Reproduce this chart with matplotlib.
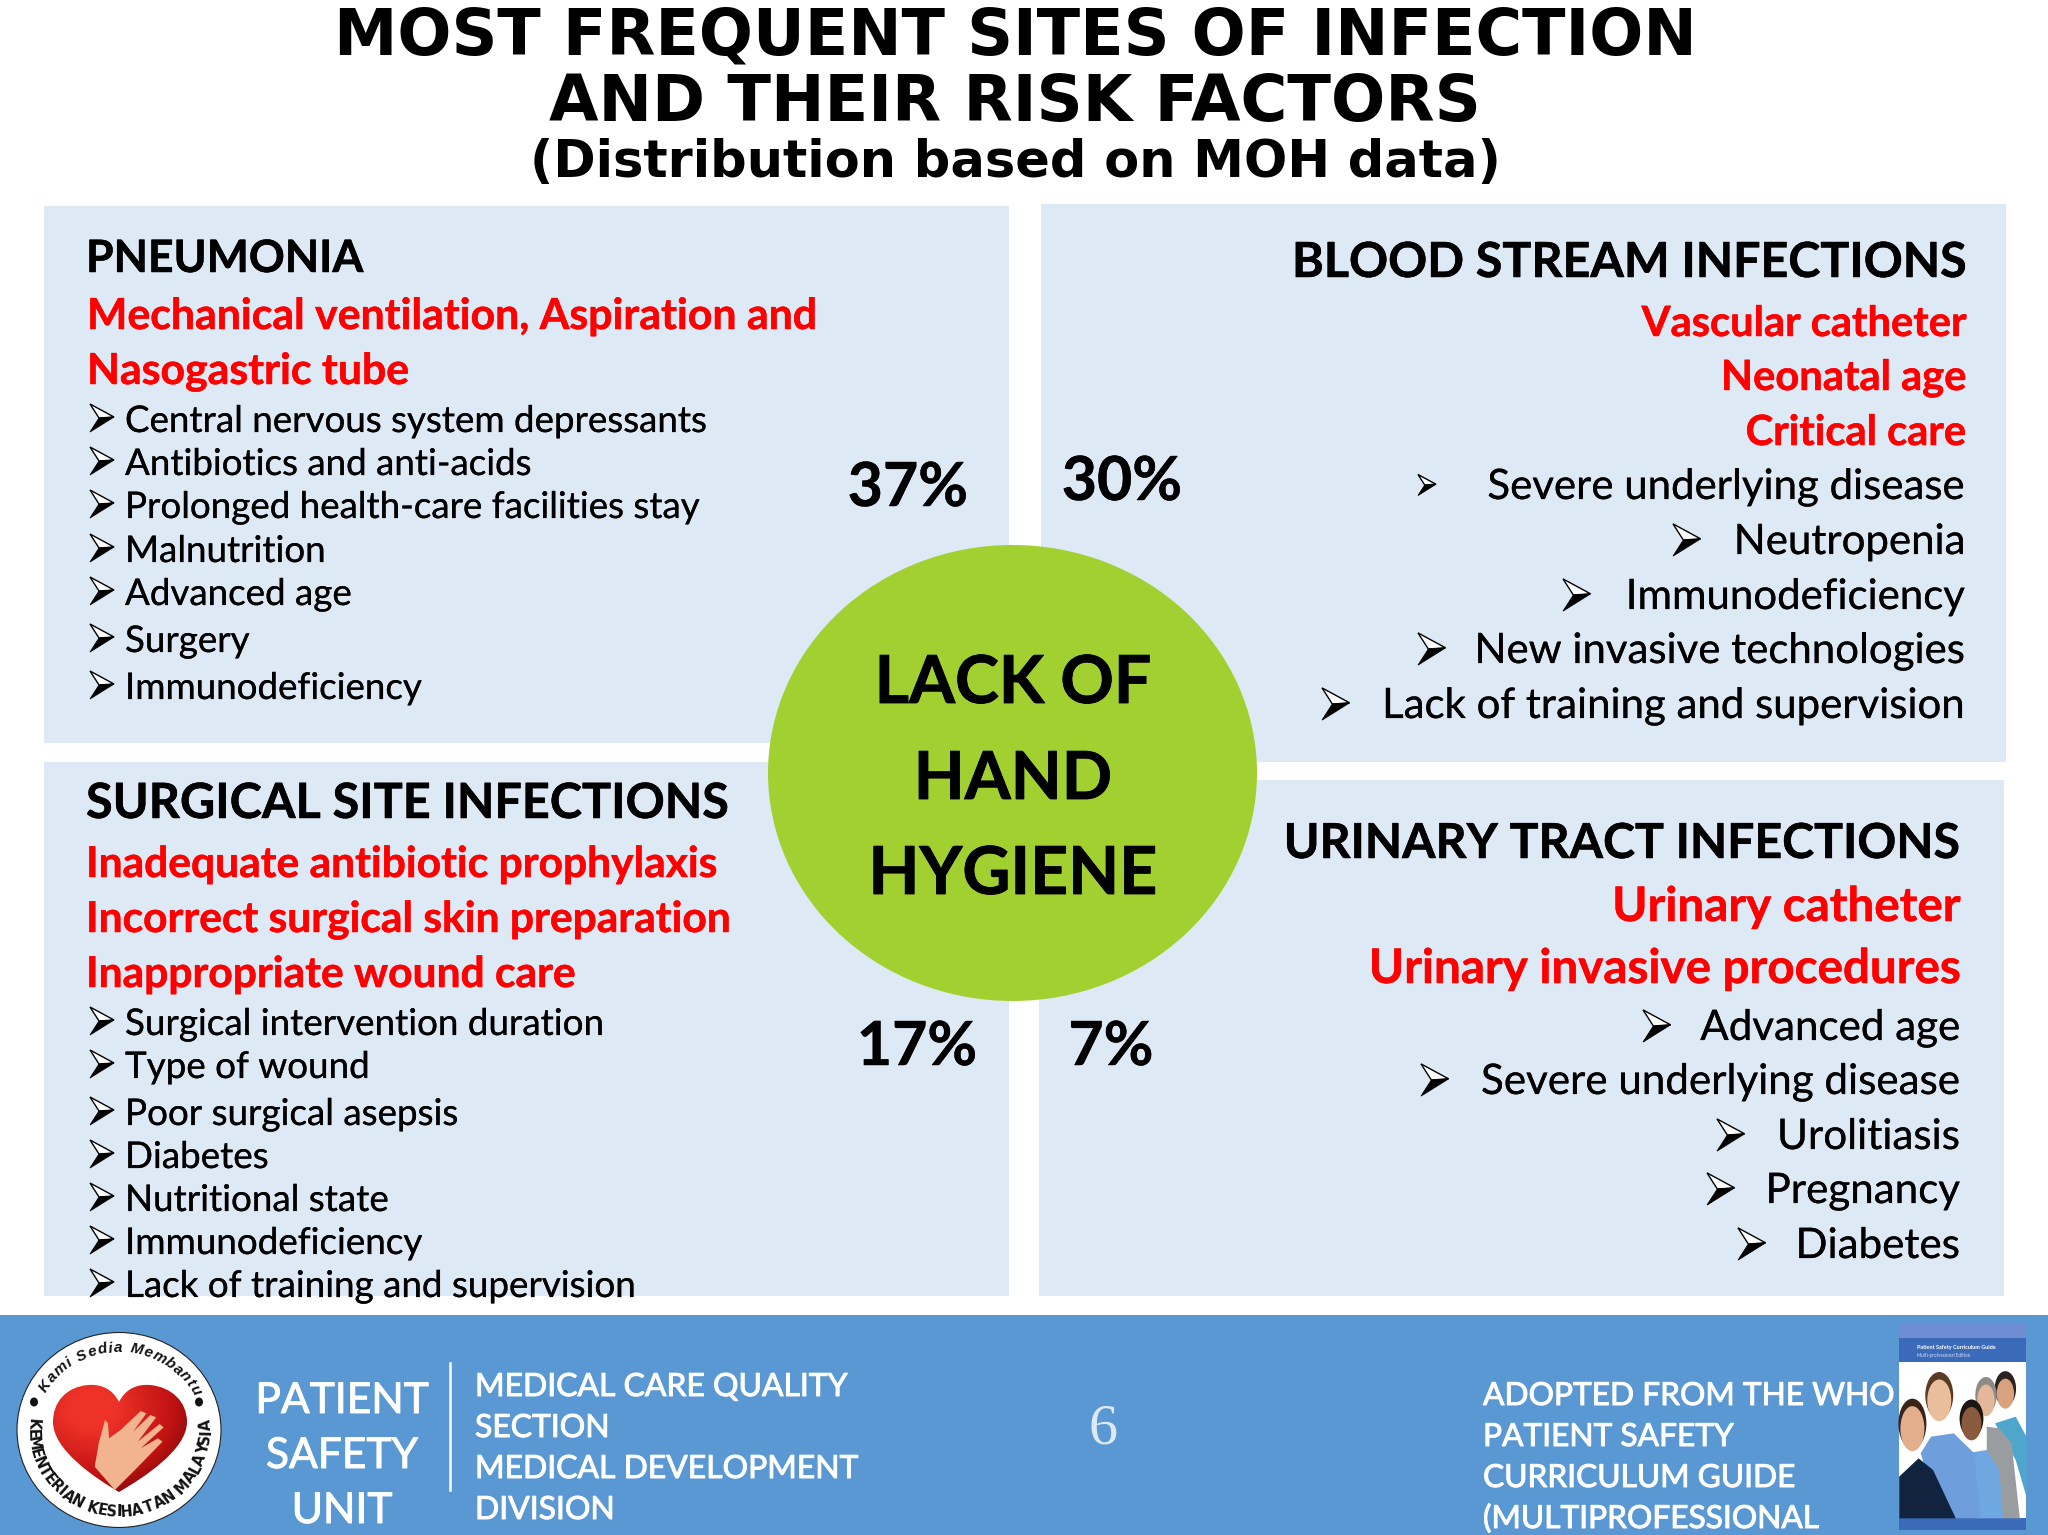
import numpy as np
import matplotlib
matplotlib.use('Agg')
import matplotlib.pyplot as plt
import matplotlib.patheffects as pe
from matplotlib.font_manager import FontProperties
from matplotlib.patches import Rectangle, Ellipse, Polygon, PathPatch
from matplotlib.path import Path
from matplotlib.textpath import TextPath

# Text of the slide
title_lines = ['MOST FREQUENT SITES OF INFECTION', 'AND THEIR RISK FACTORS']
subtitle = '(Distribution based on MOH data)'

pneu_head = 'PNEUMONIA'
pneu_red = ['Mechanical ventilation, Aspiration and', 'Nasogastric tube']
pneu_items = ['Central nervous system depressants', 'Antibiotics and anti-acids',
              'Prolonged health-care facilities stay', 'Malnutrition', 'Advanced age',
              'Surgery', 'Immunodeficiency']

blood_head = 'BLOOD STREAM INFECTIONS'
blood_red = ['Vascular catheter', 'Neonatal age', 'Critical care']
blood_items = ['Severe underlying disease', 'Neutropenia', 'Immunodeficiency',
               'New invasive technologies', 'Lack of training and supervision']

surg_head = 'SURGICAL SITE INFECTIONS'
surg_red = ['Inadequate antibiotic prophylaxis', 'Incorrect surgical skin preparation',
            'Inappropriate wound care']
surg_items = ['Surgical intervention duration', 'Type of wound', 'Poor surgical asepsis',
              'Diabetes', 'Nutritional state', 'Immunodeficiency',
              'Lack of training and supervision']

uti_head = 'URINARY TRACT INFECTIONS'
uti_red = ['Urinary catheter', 'Urinary invasive procedures']
uti_items = ['Advanced age', 'Severe underlying disease', 'Urolitiasis', 'Pregnancy', 'Diabetes']

shares = ['37%', '30%', '17%', '7%']
center_lines = ['LACK OF', 'HAND', 'HYGIENE']
unit_lines = ['PATIENT', 'SAFETY', 'UNIT']
section_lines = ['MEDICAL CARE QUALITY', 'SECTION', 'MEDICAL DEVELOPMENT', 'DIVISION']
adopted_lines = ['ADOPTED FROM THE WHO', 'PATIENT SAFETY', 'CURRICULUM GUIDE', '(MULTIPROFESSIONAL']
page_no = '6'
logo_top = 'Kami Sedia Membantu'
logo_bottom = 'KEMENTERIAN KESIHATAN MALAYSIA'
book_lines = ['Patient Safety Curriculum Guide', 'Multi-professional Edition']

PANEL = '#DEE9F6'
GREEN = '#A2D030'
FOOTER = '#5A98D4'
RED = '#FF0000'
DPI = 100
BODY = 'Lato'

fig = plt.figure(figsize=(20.48, 15.35), dpi=DPI, facecolor='white')
ax = fig.add_axes([0, 0, 1, 1])
ax.set_xlim(0, 2048)
ax.set_ylim(1535, 0)
ax.axis('off')


def fit(s, width, family=BODY, weight='normal'):
    # font size that makes s come out width pixels wide
    tp = TextPath((0, 0), s, size=100, prop=FontProperties(family=family, weight=weight))
    return width / tp.get_extents().width * 100 * 72 / DPI


def put(x, y, s, size, color='black', weight='normal', ha='left', family=BODY, heavy=0, **kw):
    t = ax.text(x, y, s, fontsize=size, color=color, fontweight=weight, ha=ha,
                va='baseline', family=family, **kw)
    if heavy:
        # Lato is lighter than the slide's face, thicken it a little
        t.set_path_effects([pe.withStroke(linewidth=heavy, foreground=color)])
    return t


def arrow(x, y, k=1.0, z=4):
    # the bullet: hollow top half, black lower half, x is its left end, y the text baseline
    mid = y - 14
    top = (x, mid - 14 * k)
    tip = (x + 24 * k, mid - 1 * k)
    bottom = (x, mid + 14 * k)
    notch = (x + 9 * k, mid)
    ax.add_patch(Polygon([top, tip, notch], closed=True, fc='white', ec='black', lw=1.0, zorder=z))
    ax.add_patch(Polygon([notch, tip, bottom], closed=True, fc='black', ec='black', lw=0.6, zorder=z))


def box(x0, y0, x1, y1, color, z=1):
    ax.add_patch(Rectangle((x0, y0), x1 - x0, y1 - y0, fc=color, ec='none', zorder=z))


# Title
s = fit(title_lines[0], 1350, 'DejaVu Sans', 'bold')
put(1015, 54, title_lines[0], s, weight='bold', ha='center', family='DejaVu Sans')
put(1015, 121, title_lines[1], s * 1.006, weight='bold', ha='center', family='DejaVu Sans')
put(1015, 177, subtitle, fit(subtitle, 962, 'DejaVu Sans', 'bold'), weight='bold', ha='center',
    family='DejaVu Sans')

# Panels
box(44, 206, 1009, 743, PANEL)
box(1041, 204, 2006, 762, PANEL)
box(44, 762, 1009, 1296, PANEL)
box(1039, 780, 2004, 1296, PANEL)

BOLD_EXTRA = 0.35
BODY_EXTRA = 0.15

# Pneumonia
put(86, 272, pneu_head, fit(pneu_head, 274, weight='bold'), weight='bold', heavy=BOLD_EXTRA)
s = fit(pneu_red[0], 724, weight='bold')
for y, t in zip([329, 384], pneu_red):
    put(87, y, t, s, RED, 'bold', heavy=BOLD_EXTRA)
s = fit(pneu_items[2], 571)
for y, t in zip([432, 475, 518, 562, 605, 652, 699], pneu_items):
    put(125, y, t, s, heavy=BODY_EXTRA)
    arrow(90, y)

# Blood stream
put(1966, 277, blood_head, fit(blood_head, 669, weight='bold'), weight='bold', ha='right', heavy=BOLD_EXTRA)
s = fit(blood_red[0], 325, weight='bold')
for y, t in zip([336, 390, 445], blood_red):
    put(1966, y, t, s, RED, 'bold', 'right', heavy=BOLD_EXTRA)
s = fit(blood_items[4], 576)
for y, t, x0, k in zip([499, 554, 609, 663, 718], blood_items, [1418, 1673, 1563, 1418, 1322],
                       [0.75, 1.15, 1.15, 1.15, 1.15]):
    put(1966, y, t, s, ha='right', heavy=BODY_EXTRA)
    arrow(x0, y, k)

# Surgical site
put(86, 818, surg_head, fit(surg_head, 640, weight='bold'), weight='bold', heavy=BOLD_EXTRA)
s = fit(surg_red[1], 639, weight='bold')
for y, t in zip([877, 932, 987], surg_red):
    put(86, y, t, s, RED, 'bold', heavy=BOLD_EXTRA)
s = fit(surg_items[6], 505)
for y, t in zip([1035, 1078, 1125, 1168, 1211, 1254, 1297], surg_items):
    put(125, y, t, s, heavy=BODY_EXTRA, zorder=4)
    arrow(90, y)

# Urinary tract
put(1960, 858, uti_head, fit(uti_head, 671, weight='bold'), weight='bold', ha='right', heavy=BOLD_EXTRA)
s = fit(uti_red[1], 587, weight='bold')
for y, t in zip([921, 983], uti_red):
    put(1960, y, t, s, RED, 'bold', 'right', heavy=BOLD_EXTRA)
s = fit(uti_items[1], 476)
for y, t, x0 in zip([1040, 1094, 1149, 1203, 1258], uti_items, [1643, 1421, 1717, 1707, 1738]):
    put(1960, y, t, s, ha='right', heavy=BODY_EXTRA)
    arrow(x0, y, 1.15)

# Percentages
s = fit(shares[0], 116, weight='bold')
for x, y, t in zip([908, 1122, 917, 1111], [506, 500, 1065, 1065], shares):
    put(x, y, t, s, weight='bold', ha='center', heavy=BOLD_EXTRA)

# Centre circle
ax.add_patch(Ellipse((1012.5, 773), 489, 456, fc=GREEN, ec='none', zorder=3))
s = fit(center_lines[2], 281, weight='bold')
for y, t in zip([703, 799, 894], center_lines):
    put(1013, y, t, s, weight='bold', ha='center', heavy=0.6, zorder=5)

# Footer band
box(0, 1315, 2048, 1535, FOOTER, z=2)

s = fit(unit_lines[0], 169)
for y, t in zip([1413, 1468, 1523], unit_lines):
    put(342, y, t, s, 'white', ha='center', heavy=0.7, zorder=5)
ax.plot([450, 450], [1363, 1490], color='white', lw=1.8, zorder=5)
s = fit(section_lines[2], 380)
for y, t in zip([1396, 1437, 1478, 1519], section_lines):
    put(475, y, t, s, 'white', heavy=0.7, zorder=5)
put(1103, 1443, page_no, 42, '#DCE8F4', family='Liberation Serif', ha='center', zorder=5)
s = fit(adopted_lines[0], 410)
for y, t in zip([1405, 1446, 1487, 1528], adopted_lines):
    put(1483, y, t, s, 'white', heavy=0.7, zorder=5)

# Ministry logo
cx, cy = 119, 1430
ax.add_patch(Ellipse((cx, cy), 204, 195, fc='white', ec='#222222', lw=0.8, zorder=5))
verts = [(119, 1402),
         (112, 1388), (100, 1384), (88, 1385),
         (66, 1387), (53, 1402), (53, 1422),
         (53, 1450), (95, 1478), (119, 1492),
         (143, 1478), (187, 1450), (187, 1422),
         (187, 1402), (172, 1387), (150, 1385),
         (138, 1384), (126, 1388), (119, 1402)]
codes = [Path.MOVETO] + [Path.CURVE4] * 18
heart = PathPatch(Path(verts, codes), fc='none', ec='none', zorder=6)
ax.add_patch(heart)
gx, gy = np.meshgrid(np.linspace(0, 1, 80), np.linspace(0, 1, 80))
shade = np.clip(1.2 - np.hypot(gx - 0.3, gy - 0.25) * 1.2, 0, 1)
grad = matplotlib.colors.LinearSegmentedColormap.from_list('h', ['#4A0404', '#C01212', '#EE3228'])
im = ax.imshow(shade, extent=(50, 190, 1495, 1380), cmap=grad, vmin=0, vmax=1, zorder=6, aspect='auto')
im.set_clip_path(heart)
ax.set_xlim(0, 2048)
ax.set_ylim(1535, 0)


def lz(pts):
    return [(x / 1.742, 1310 + y / 3) for x, y in pts]


hand = [(183, 330), (172, 400), (165, 470), (200, 540), (235, 480), (283, 395), (275, 385), (245, 415),
        (285, 352), (278, 342), (240, 395), (272, 322), (262, 315), (232, 365), (255, 310), (245, 303),
        (210, 360), (190, 385), (188, 340)]
ax.add_patch(Polygon(lz(hand), closed=True, fc='#F2B48E', ec='none', zorder=7))


def arc_text(s, a0, a1, size, family, style='normal', flip=False):
    # letters along the rim of the logo, spaced by their widths; angles in degrees, screen sense
    prop = FontProperties(family=family, weight='bold', style=style)
    w = [TextPath((0, 0), c, size=10, prop=prop).get_extents().width + 1.5 if c != ' ' else 4.0 for c in s]
    w = np.array(w)
    mids = (np.cumsum(w) - w / 2) / w.sum()
    for c, m in zip(s, mids):
        a = a0 + (a1 - a0) * m
        r = np.deg2rad(a)
        rot = -a + (90 if flip else -90)
        ax.text(cx + 87 * np.cos(r), cy + 82 * np.sin(r), c, fontsize=size, fontweight='bold',
                fontstyle=style, family=family, rotation=rot, rotation_mode='anchor',
                ha='center', va='center', zorder=8, color='#111111')


arc_text(logo_top, 208, 334, 11, 'Liberation Sans', 'italic')
arc_text(logo_bottom, 188, -8, 10.5, 'Liberation Sans Narrow', flip=True)
for dx, dy in [(-85, -28), (80, -28)]:
    ax.add_patch(Ellipse((cx + dx, cy + dy), 8, 9, fc='#111111', ec='none', zorder=8))

# Book cover
box(1899, 1323, 2026, 1338, '#6F8DD2', z=5)
box(1899, 1338, 2026, 1362, '#3A6AB8', z=5)
box(1899, 1362, 2026, 1518, 'white', z=5)
box(1899, 1518, 2026, 1530, '#3A6AB8', z=5)
put(1917, 1349, book_lines[0], fit(book_lines[0], 79, weight='bold'), 'white', 'bold', zorder=6)
put(1917, 1357, book_lines[1], fit(book_lines[1], 52), '#D5E0F2', zorder=6)


def bz(pts):
    # same thing for the zoomed crop of the book
    return [(1400 + x / 2.42, 1310 + y / 3) for x, y in pts]


def person(hx, hy, hw, hh, body, body_col, hair, skin, z):
    ax.add_patch(Polygon(bz(body), closed=True, fc=body_col, ec='none', zorder=z))
    (px, py), = bz([(hx, hy)])
    ax.add_patch(Ellipse((px, py - 3), hw / 2.42 + 4, hh / 3 + 5, fc=hair, ec='none', zorder=z))
    ax.add_patch(Ellipse((px, py + 2), hw / 2.42, hh / 3, fc=skin, ec='none', zorder=z))


person(1465, 245, 42, 90, [(1440, 340), (1490, 320), (1516, 380), (1516, 560), (1490, 450)],
       '#4FA6CC', '#2A2320', '#D9A27E', 6)
person(1418, 265, 42, 95, [(1420, 350), (1450, 355), (1480, 400), (1500, 625), (1460, 625), (1420, 430)],
       '#9A9DA0', '#8E8A86', '#E3B79A', 7)
person(1383, 335, 48, 100, [(1370, 430), (1420, 420), (1450, 480), (1460, 625), (1395, 625)],
       '#6FA8E0', '#1E1613', '#8A5A3E', 8)
person(1305, 265, 58, 125, [(1260, 430), (1285, 380), (1340, 370), (1390, 430), (1405, 625), (1340, 625), (1270, 470)],
       '#6E9FDC', '#5B3A24', '#E9BE9C', 9)
person(1240, 350, 58, 135, [(1208, 500), (1255, 445), (1290, 480), (1345, 625), (1208, 625)],
       '#12233F', '#3A2418', '#E2AE8C', 10)

fig.savefig('out.png', dpi=DPI, facecolor='white')
